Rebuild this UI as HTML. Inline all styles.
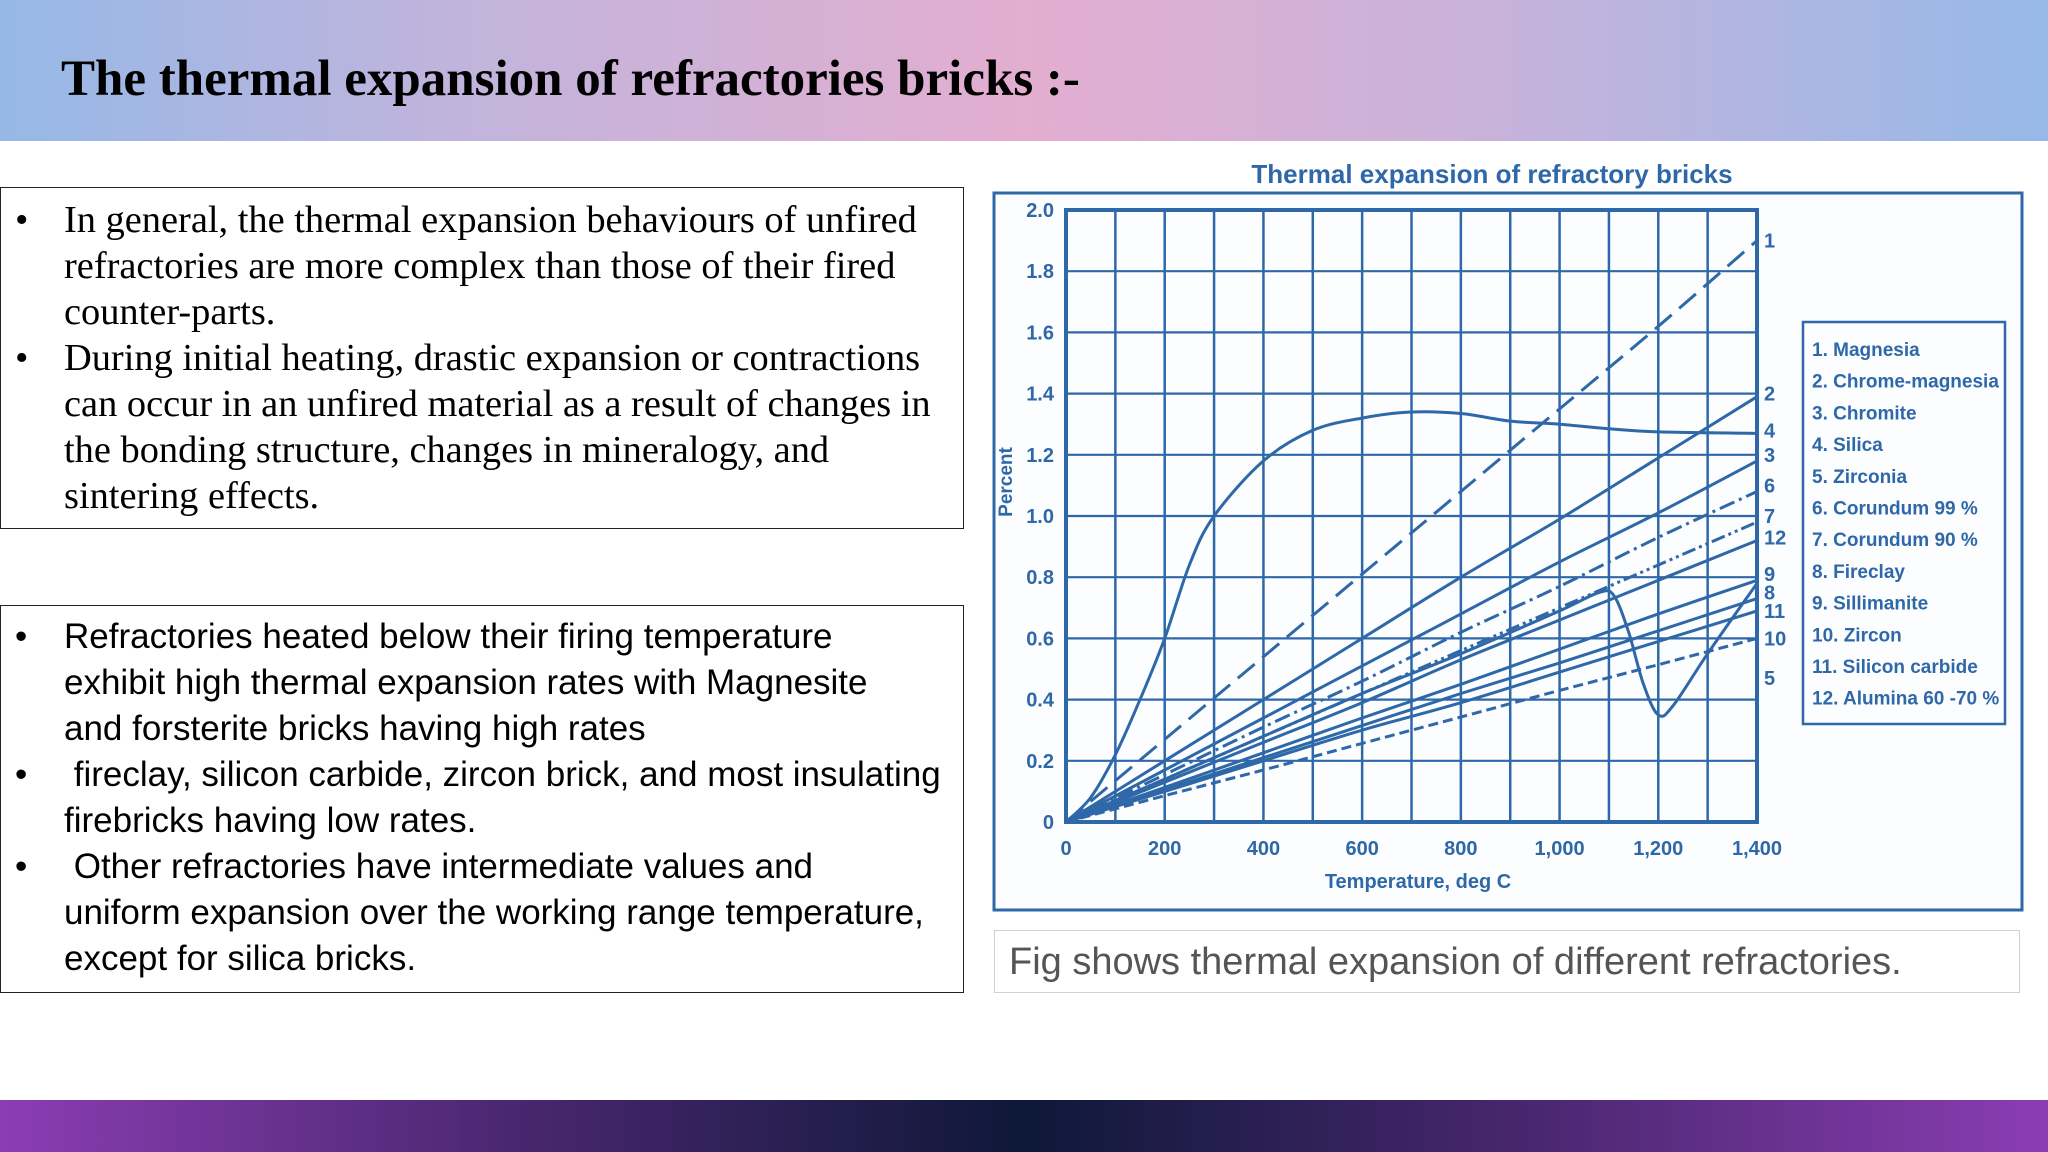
<!DOCTYPE html>
<html><head><meta charset="utf-8">
<style>
html,body{margin:0;padding:0;}
body{width:2048px;height:1152px;position:relative;overflow:hidden;background:#fff;}
#header{position:absolute;left:0;top:0;width:2048px;height:141px;background:linear-gradient(90deg,#96b8e7 0%,#c0b4dc 22%,#e3aed0 50%,#c9b2da 72%,#96b9e8 100%);}
#title{position:absolute;left:61px;top:50px;font:bold 51px "Liberation Serif",serif;color:#000;margin:0;white-space:nowrap;}
.box{position:absolute;left:0;width:964px;border:1.5px solid #222;box-sizing:border-box;white-space:nowrap;}
.box ul{margin:0;padding:0;list-style:none;}
.box li{position:relative;padding-left:63px;}
.box li::before{content:"•";position:absolute;left:14px;}
#box1{top:187px;height:342px;font:38.4px/46px "Liberation Serif",serif;padding-top:9px;}
#box2{top:605px;height:388px;font:35px/46px "Liberation Sans",sans-serif;padding-top:8px;}
#caption{position:absolute;left:994px;top:930px;width:1026px;height:63px;border:1.5px solid #c9d3de;box-sizing:border-box;font:38px/62px "Liberation Sans",sans-serif;color:#555;padding-left:14px;white-space:nowrap;}
#footer{position:absolute;left:0;top:1100px;width:2048px;height:52px;background:linear-gradient(90deg,#8b3db3 0%,#4a2770 25%,#0e1838 50%,#4a2770 75%,#8b3db3 100%);}
#chart{position:absolute;left:0;top:0;}
</style></head>
<body>
<div id="header"><h1 id="title">The thermal expansion of refractories bricks :-</h1></div>
<div class="box" id="box1"><ul>
<li>In general, the thermal expansion behaviours of unfired<br>refractories are more complex than those of their fired<br>counter-parts.</li>
<li>During initial heating, drastic expansion or contractions<br>can occur in an unfired material as a result of changes in<br>the bonding structure, changes in mineralogy, and<br>sintering effects.</li></ul></div>
<div class="box" id="box2"><ul>
<li>Refractories heated below their firing temperature<br>exhibit high thermal expansion rates with Magnesite<br>and forsterite bricks having high rates</li>
<li>&nbsp;fireclay, silicon carbide, zircon brick, and most insulating<br>firebricks having low rates.</li>
<li>&nbsp;Other refractories have intermediate values and<br>uniform expansion over the working range temperature,<br>except for silica bricks.</li></ul></div>
<svg id="chart" width="2048" height="1152"></svg>
<div id="caption">Fig shows thermal expansion of different refractories.</div>
<div id="footer"></div>
<script>
const temps=[0,200,400,600,800,1000,1200,1400];
const xTicks=[0,200,400,600,800,1000,1200,1400];
const xTickLabels=["0","200","400","600","800","1,000","1,200","1,400"];
const yTicks=[0,0.2,0.4,0.6,0.8,1.0,1.2,1.4,1.6,1.8,2.0];
const yTickLabels=["0","0.2","0.4","0.6","0.8","1.0","1.2","1.4","1.6","1.8","2.0"];
const magnesia=[0,0.27,0.54,0.81,1.08,1.35,1.62,1.9];
const chromeMagnesia=[0,0.2,0.4,0.6,0.8,0.99,1.19,1.39];
const chromite=[0,0.17,0.34,0.51,0.68,0.85,1.01,1.18];
const silicaT=[0,50,100,150,200,250,300,400,500,600,700,800,900,1000,1100,1200,1400];
const silicaV=[0,0.08,0.22,0.4,0.6,0.84,1.0,1.18,1.28,1.32,1.34,1.335,1.31,1.3,1.285,1.275,1.27];
const zirconiaT=[0,200,400,600,800,1000,1080,1110,1140,1170,1200,1230,1300,1400];
const zirconiaV=[0,0.14,0.28,0.42,0.55,0.69,0.75,0.74,0.62,0.45,0.35,0.38,0.55,0.78];
const corundum99=[0,0.155,0.31,0.46,0.62,0.77,0.93,1.08];
const corundum90=[0,0.14,0.28,0.42,0.56,0.7,0.84,0.98];
const fireclay=[0,0.105,0.21,0.315,0.42,0.52,0.625,0.73];
const sillimanite=[0,0.113,0.226,0.34,0.45,0.565,0.68,0.79];
const zircon=[0,0.086,0.17,0.257,0.343,0.43,0.514,0.6];
const siliconCarbide=[0,0.1,0.2,0.3,0.39,0.49,0.59,0.69];
const alumina=[0,0.13,0.26,0.39,0.53,0.66,0.79,0.92];
const legendItems=["1. Magnesia","2. Chrome-magnesia","3. Chromite","4. Silica","5. Zirconia","6. Corundum 99 %","7. Corundum 90 %","8. Fireclay","9. Sillimanite","10. Zircon","11. Silicon carbide","12. Alumina 60 -70 %"];

const svg=document.getElementById('chart');const NS='http://www.w3.org/2000/svg';
const C='#2f68a8';
const X0=1066,X1=1757,Y0=822,Y1=210;
function xs(t){return X0+(t/1400)*(X1-X0);}
function ys(v){return Y0-(v/2)*(Y0-Y1);}
function mk(tag,attrs,parent){const e=document.createElementNS(NS,tag);for(const k in attrs)e.setAttribute(k,attrs[k]);(parent||svg).appendChild(e);return e;}
function txt(s,x,y,size,anchor,parent){const t=mk('text',{x:x,y:y,'font-size':size,'text-anchor':anchor||'middle','font-family':'"Liberation Sans Narrow","Liberation Sans",sans-serif','font-weight':'bold',fill:C},parent);t.textContent=s;return t;}

const bg=mk('rect',{x:994,y:193,width:1028,height:717,fill:'#fbfdff',stroke:C,'stroke-width':3});


const tt=txt('Thermal expansion of refractory bricks',1492,183,26);


for(let t=100;t<1400;t+=100){const l=mk('line',{x1:xs(t),x2:xs(t),y1:Y1,y2:Y0,stroke:C,'stroke-width':2.5});

}
yTicks.forEach((v,i)=>{if(i>0&&i<yTicks.length-1){const l=mk('line',{x1:X0,x2:X1,y1:ys(v),y2:ys(v),stroke:C,'stroke-width':2.2});

}
const lab=txt(yTickLabels[i],X0-12,ys(v)+7,20,'end');

});
xTicks.forEach((t,i)=>{const lab=txt(xTickLabels[i],xs(t),855,20,'middle');

});
const pr=mk('rect',{x:X0,y:Y1,width:X1-X0,height:Y0-Y1,fill:'none',stroke:C,'stroke-width':4});


const xt=txt('Temperature, deg C',1418,888,20);


const yt=txt('Percent',1012,482,19);yt.setAttribute('transform','rotate(-90 1012 482)');



function smoothPath(P){
  let d='M'+P[0][0].toFixed(1)+','+P[0][1].toFixed(1);
  for(let i=0;i<P.length-1;i++){
    const p0=P[i-1]||P[i],p1=P[i],p2=P[i+1],p3=P[i+2]||P[i+1];
    const c1=[p1[0]+(p2[0]-p0[0])/6,p1[1]+(p2[1]-p0[1])/6];
    const c2=[p2[0]-(p3[0]-p1[0])/6,p2[1]-(p3[1]-p1[1])/6];
    d+=' C'+c1.map(v=>v.toFixed(1)).join(',')+' '+c2.map(v=>v.toFixed(1)).join(',')+' '+p2.map(v=>v.toFixed(1)).join(',');
  }
  return d;
}
function series(T,V,dash,name,label,labelY){
  const P=T.map((t,i)=>[xs(t),ys(V[i])]);
  const p=mk('path',{d:smoothPath(P),fill:'none',stroke:C,'stroke-width':3,'stroke-dasharray':dash||'none','stroke-linejoin':'round'});
  
  
  const lab=txt(label,X1+7,ys(labelY)+7,20,'start');
  
  
}
series(temps,magnesia,'22 10','series-magnesia','1',1.9);
series(temps,chromeMagnesia,null,'series-chrome-magnesia','2',1.4);
series(temps,chromite,null,'series-chromite','3',1.2);
series(silicaT,silicaV,null,'series-silica','4',1.28);
series(zirconiaT,zirconiaV,null,'series-zirconia','5',0.47);
series(temps,corundum99,'16 5 3 5','series-corundum-99','6',1.1);
series(temps,corundum90,'14 4 3 4 3 4','series-corundum-90','7',1.0);
series(temps,alumina,null,'series-alumina','12',0.93);
series(temps,sillimanite,null,'series-sillimanite','9',0.81);
series(temps,fireclay,null,'series-fireclay','8',0.75);
series(temps,siliconCarbide,null,'series-silicon-carbide','11',0.69);
series(temps,zircon,'10 5','series-zircon','10',0.6);

const lg=mk('rect',{x:1803,y:322,width:202,height:402,fill:'#fbfdff',stroke:C,'stroke-width':2.5});


legendItems.forEach((s,i)=>{const t=txt(s,1812,356+i*31.7,19,'start');

});
</script>
</body></html>
